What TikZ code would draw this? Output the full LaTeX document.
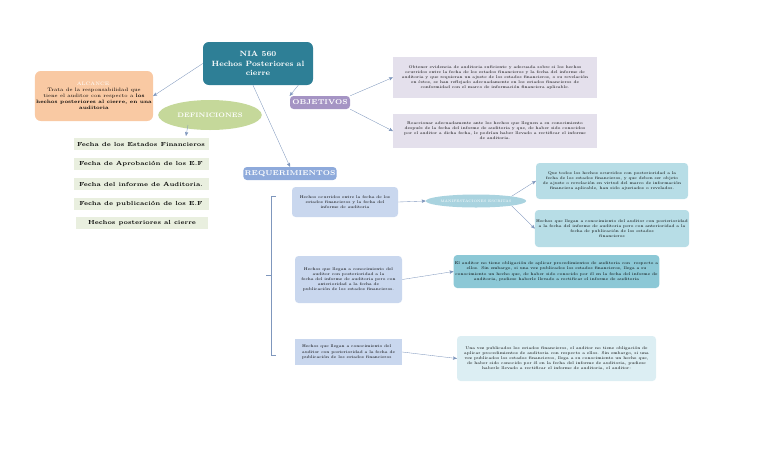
\documentclass[tikz,border=0pt]{standalone}
\usepackage{tikz}
\usetikzlibrary{arrows,calc,shapes}

\definecolor{niateal}{HTML}{2E7F96}
\definecolor{peach}{HTML}{F9C9A3}
\definecolor{olive}{HTML}{C5D89A}
\definecolor{itemg}{HTML}{E9EFDF}
\definecolor{lila}{HTML}{A594C4}
\definecolor{lilabg}{HTML}{E4E0EC}
\definecolor{reqb}{HTML}{8EAADB}
\definecolor{reqbg}{HTML}{C9D7EE}
\definecolor{cyan1}{HTML}{A9D3DF}
\definecolor{cyan2}{HTML}{B7DDE6}
\definecolor{cyan3}{HTML}{8CC8D6}
\definecolor{cyan4}{HTML}{DCEEF3}
\definecolor{lnk}{HTML}{7F97BD}

\tikzset{
  box/.style={rounded corners=3pt,inner sep=1pt,align=center,font=\fontsize{3.4}{4.3}\selectfont},
  item/.style={fill=itemg,minimum width=135*0.03cm,minimum height=12*0.03cm,inner sep=0pt,font=\fontsize{5}{6}\selectfont\bfseries},
  link/.style={draw=lnk,line width=0.3pt,-stealth'},
}

\begin{document}
\begin{tikzpicture}[x=0.03cm,y=-0.03cm]
    \useasboundingbox (0,0) rectangle (768,466);

    % centre
    \node (nia) [box,fill=niateal,text=white,minimum width=110*0.03cm,minimum height=43*0.03cm,
      font=\fontsize{6.5}{8}\selectfont\bfseries,rounded corners=5pt] at (258,63.5)
      {NIA 560\\Hechos Posteriores al\\cierre};

    \node (alc) [box,fill=peach,minimum width=108*0.03cm,minimum height=50*0.03cm,rounded corners=5pt,
      font=\fontsize{4.2}{5.2}\selectfont] at (94,96)
      {{\color{white}ALCANCE:}\\Trata de la responsabilidad que\\tiene el auditor con respecto a \textbf{los}\\\textbf{hechos posteriores al cierre, en una}\\\textbf{auditoria}};

    \node (def) [ellipse,fill=olive,text=white,minimum width=100*0.03cm,minimum height=30*0.03cm,
      font=\fontsize{5.5}{6.5}\selectfont\bfseries] at (210,115) {DEFINICIONES};

    \node (d1) [item] at (141,144) {Fecha de los Estados Financieros};
    \node (d2) [item] at (141,164) {Fecha de Aprobación de los E.F};
    \node (d3) [item] at (141,184) {Fecha del informe de Auditoria.};
    \node (d4) [item] at (141,204) {Fecha de publicación de los E.F};
    \node (d5) [item,minimum width=132*0.03cm] at (142,223) {Hechos posteriores al cierre};

    % objetivos
    \node (obj) [box,fill=lila,text=white,minimum width=60*0.03cm,minimum height=13*0.03cm,
      font=\fontsize{6}{7}\selectfont\bfseries] at (320,102.5) {OBJETIVOS};
    \node (o1) [box,fill=lilabg,rounded corners=0pt,minimum width=204*0.03cm,minimum height=41*0.03cm] at (495,77.5)
      {Obtener evidencia de auditoria suficiente y adecuada sobre si los hechos\\
       ocurridos entre la fecha de los estados financieros y la fecha del informe de\\
       auditoria y que requieran un ajuste de los estados financieros, o su revelación\\
       en éstos, se han reflejado adecuadamente en los estados financieros de\\
       conformidad con el marco de información financiera aplicable.};
    \node (o2) [box,fill=lilabg,rounded corners=0pt,minimum width=204*0.03cm,minimum height=34*0.03cm] at (495,131)
      {Reaccionar adecuadamente ante los hechos que lleguen a su conocimiento\\
       después de la fecha del informe de auditoria y que, de haber sido conocidos\\
       por el auditor a dicha fecha, le podrían haber llevado a rectificar el informe\\
       de auditoria.};

    % requerimientos
    \node (req) [box,fill=reqb,text=white,minimum width=82*0.03cm,minimum height=13*0.03cm,
      font=\fontsize{6}{7}\selectfont\bfseries] at (290,173.5) {REQUERIMIENTOS};

    \node (r1) [box,fill=reqbg,minimum width=106*0.03cm,minimum height=30*0.03cm] at (345,202)
      {Hechos ocurridos entre la fecha de los\\estados financieros y la fecha del\\informe de auditoria};
    \node (man) [ellipse,fill=cyan1,text=white,minimum width=95*0.03cm,minimum height=13*0.03cm,inner sep=0pt,
      font=\fontsize{3}{4}\selectfont] at (476,201) {MANIFESTACIONES ESCRITAS};
    \node (m1) [box,fill=cyan2,minimum width=152*0.03cm,minimum height=36*0.03cm] at (612,181)
      {Que todos los hechos ocurridos con posterioridad a la\\fecha de los estados financieros, y que deben ser objeto\\
       de ajuste o revelación en virtud del marco de información\\financiera aplicable, han sido ajustados o revelados.};
    \node (m2) [box,fill=cyan2,minimum width=152*0.03cm,minimum height=37*0.03cm] at (612,228.5)
      {Hechos que llegan a conocimiento del auditor con posterioridad\\a la fecha del informe de auditoria pero con anterioridad a la\\
       fecha de publicación de los estados\\financieros};

    \node (r2) [box,fill=reqbg,minimum width=107*0.03cm,minimum height=47*0.03cm] at (348.5,279.5)
      {Hechos que llegan a conocimiento del\\auditor con posterioridad a la\\fecha del informe de auditoria pero con\\
       anterioridad a la fecha de\\publicación de los estados financieros.};
    \node (a2) [box,fill=cyan3,minimum width=203*0.03cm,minimum height=33*0.03cm] at (556.5,271.5)
      {El auditor no tiene obligación de aplicar procedimientos de auditoria con\ \ respecto a\\
       ellos. Sin embargo, si una vez publicados los estados financieros, llega a su\\
       conocimiento un hecho que, de haber sido conocido por él en la fecha del informe de\\
       auditoria, pudiese haberle llevado a rectificar el informe de auditoria};

    \node (r3) [box,fill=reqbg,rounded corners=0pt,align=left,minimum width=107*0.03cm,minimum height=26*0.03cm] at (348.5,352)
      {Hechos que llegan a conocimiento del\\auditor con posterioridad a la fecha de\\publicación de los estados financieros};
    \node (a3) [box,fill=cyan4,minimum width=199*0.03cm,minimum height=45*0.03cm] at (556.5,358.5)
      {Una vez publicados los estados financieros, el auditor no tiene obligación de\\
       aplicar procedimientos de auditoria con respecto a ellos. Sin embargo, si una\\
       vez publicados los estados financieros, llega a su conocimiento un hecho que,\\
       de haber sido conocido por él en la fecha del informe de auditoria, pudiese\\
       haberle llevado a rectificar el informe de auditoria, el auditor:};

    % bracket
    \coordinate (bt) at (271,196);
    \coordinate (bb) at (271,355);
    \draw[lnk,line width=0.3pt] ($(bt)+(5,0)$) -- (bt) -- (bb) -- ($(bb)+(5,0)$);
    \draw[lnk,line width=0.3pt] (271,275) -- (266,275);

    % connectors
    \draw[link] (nia.west) -- (alc.east);
    \draw[link] ($(nia.south east)+(-15,0)$) -- (obj.north west);
    \draw[link] ($(nia.south)+(-5,0)$) -- (req.north);
    \draw[link] ($(def)+(-22,10)$) -- ($(d1.north)+(45,-2)$);
    \draw[link] (obj.north east) -- (o1.west);
    \draw[link] (obj.south east) -- (o2.west);
    \draw[link] (r1.east) -- (man.west);
    \draw[link] (man.north east) -- (m1.west);
    \draw[link] (man.south east) -- (m2.west);
    \draw[link] (r2.east) -- (a2.west);
    \draw[link] (r3.east) -- (a3.west);
\end{tikzpicture}
\end{document}
